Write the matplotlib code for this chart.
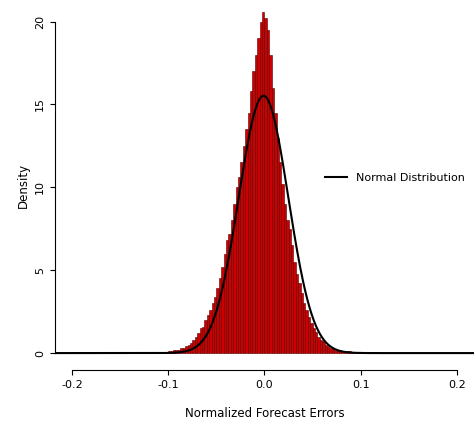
import numpy as np
import matplotlib
matplotlib.use("Agg")
import matplotlib.pyplot as plt

bin_width = 0.0025
bin_left = np.arange(-0.1, 0.1, bin_width)
density = [0.1, 0.1, 0.2, 0.2, 0.2, 0.3, 0.3, 0.4, 0.5, 0.6, 0.8, 1.0,
           1.2, 1.5, 1.6, 2.0, 2.3, 2.6, 3.0, 3.4, 3.9, 4.5, 5.2, 6.0,
           6.8, 7.2, 8.0, 9.0, 10.0, 10.6, 11.5, 12.5, 13.5, 14.5, 15.8, 17.0,
           18.0, 19.0, 20.0, 20.6,
           20.2, 19.5, 18.0, 16.0,
           14.5, 13.0, 11.5, 10.2, 9.0, 8.0, 7.5, 6.5, 5.5, 4.8, 4.2, 3.6,
           3.0, 2.6, 2.2, 1.8, 1.5, 1.3, 1.0, 0.8, 0.7, 0.5, 0.4, 0.3,
           0.3, 0.2, 0.2, 0.2, 0.1, 0.1, 0.1, 0.1, 0.05, 0.05, 0.05, 0.05]

# fitted normal parameters
mu, sd = -0.001, 0.0257
xs = np.linspace(-0.22, 0.22, 600)
pdf = np.exp(-0.5 * ((xs - mu) / sd) ** 2) / (sd * np.sqrt(2 * np.pi))

fig = plt.figure(figsize=(4.74, 4.24), dpi=100)
ax = fig.add_axes([0.116, 0.127, 0.884, 0.873])
ax.bar(bin_left, density, width=bin_width, align="edge", color="#cc0000",
       edgecolor="#5a0000", linewidth=0.4)
ax.plot(xs, pdf, color="black", lw=1.5, label="Normal Distribution")
ax.set_xlim(-0.2177, 0.2177)
ax.set_ylim(-1.03, 21.3)
ax.set_xticks([-0.2, -0.1, 0.0, 0.1, 0.2])
ax.set_xticklabels(["-0.2", "-0.1", "0.0", "0.1", "0.2"])
ax.set_yticks([0, 5, 10, 15, 20])
ax.tick_params(axis="y", labelrotation=90, labelsize=8)
ax.tick_params(axis="x", labelsize=8)
for lab in ax.get_yticklabels():
    lab.set_va("center")
ax.spines["top"].set_visible(False)
ax.spines["right"].set_visible(False)
ax.spines["left"].set_bounds(0, 20)
ax.spines["bottom"].set_bounds(-0.2, 0.2)
ax.set_xlabel("Normalized Forecast Errors", fontsize=8.5, labelpad=12)
ax.set_ylabel("Density", fontsize=8.5)
ax.legend(loc="upper left", bbox_to_anchor=(0.62, 0.56), frameon=False,
          fontsize=8, handlelength=2)
fig.savefig("out.png", dpi=100)
